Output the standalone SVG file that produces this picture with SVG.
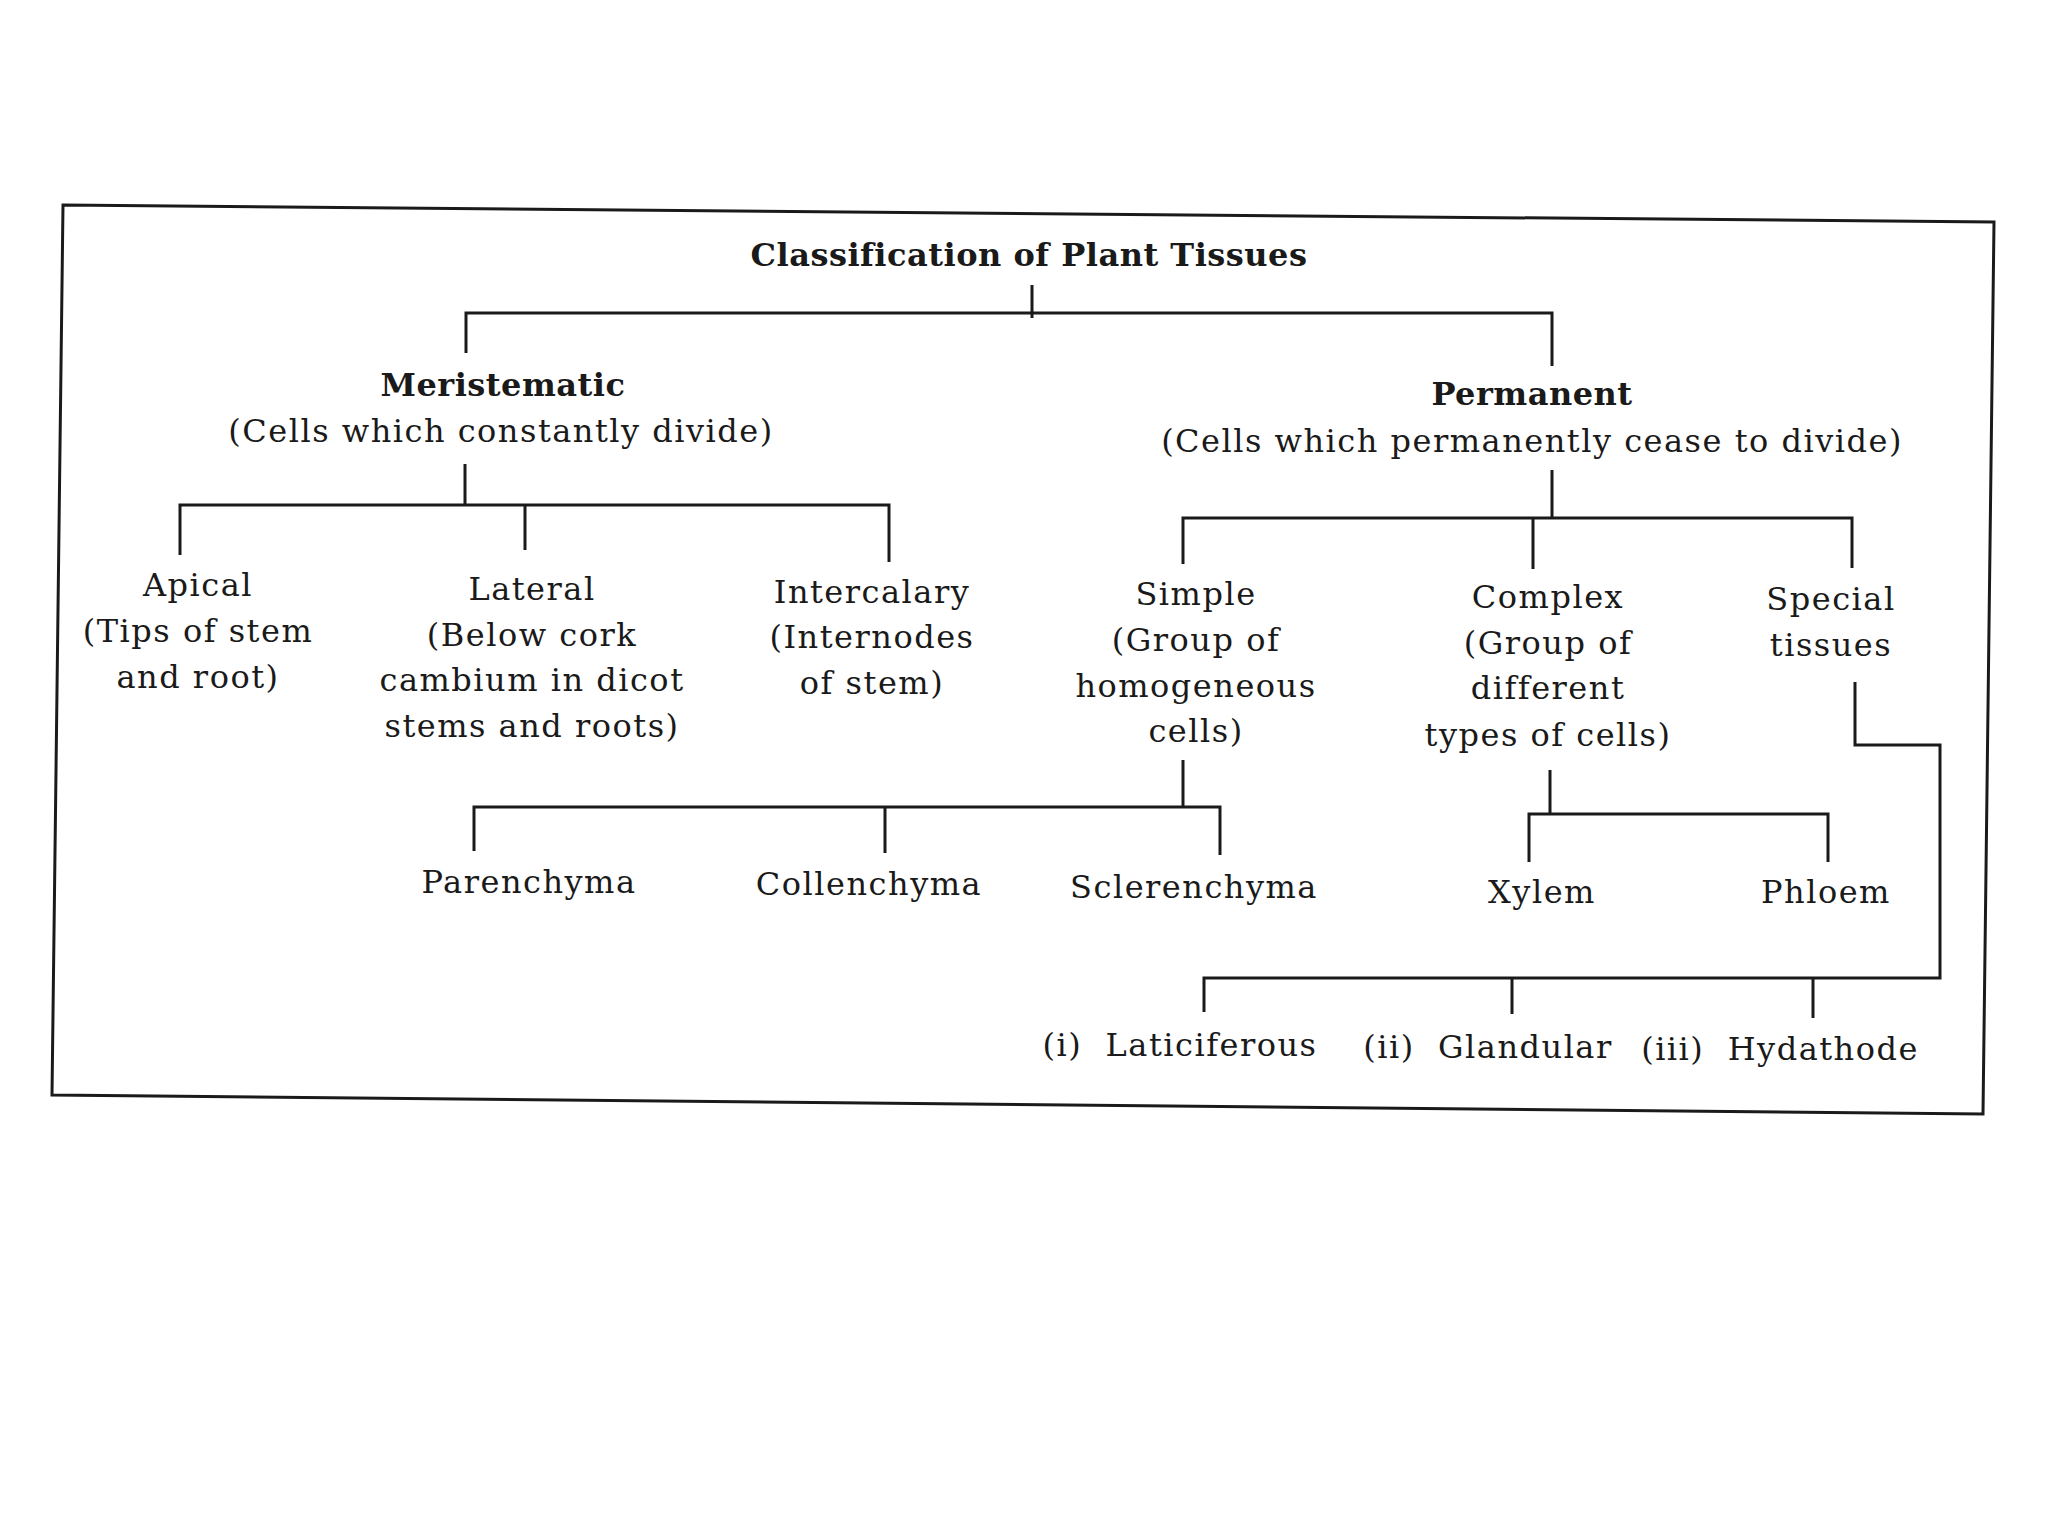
<svg xmlns="http://www.w3.org/2000/svg" width="2048" height="1536" viewBox="0 0 2048 1536">
<style>
text{font-family:"DejaVu Serif","Liberation Serif",serif;font-size:32px;letter-spacing:1.5px;fill:#1a1a1a;text-anchor:middle;white-space:pre}
.b{font-weight:bold;letter-spacing:0.5px}
.c{fill:none;stroke:#1a1a1a;stroke-width:3}
</style>
<rect width="2048" height="1536" fill="#fff"/>
<polygon class="c" points="63,205 1994,222 1983,1114 52,1095"/>
<g id="connectors">
<path class="c" d="M1032,285V318M466,353V313H1552V366"/>
<path class="c" d="M465,464V505M180,555V505H889V562M525,505V550"/>
<path class="c" d="M1552,470V518M1183,564V518H1852V568M1533,518V569"/>
<path class="c" d="M1183,760V807M474,851V807H1220V855M885,807V853"/>
<path class="c" d="M1550,770V814M1529,862V814H1828V862"/>
<path class="c" d="M1855,682V745H1940V978H1204V1012M1512,978V1014M1813,978V1018"/>
</g>
<g id="title"><text class="b" x="1029" y="266">Classification of Plant Tissues</text></g>
<g id="meristematic"><text class="b" x="503" y="396">Meristematic</text><text x="501" y="442">(Cells which constantly divide)</text></g>
<g id="permanent"><text class="b" x="1532" y="405">Permanent</text><text x="1532" y="452">(Cells which permanently cease to divide)</text></g>
<g id="apical"><text x="198" y="596">Apical</text><text x="198" y="642">(Tips of stem</text><text x="198" y="688">and root)</text></g>
<g id="lateral"><text x="532" y="600">Lateral</text><text x="532" y="646">(Below cork</text><text x="532" y="691">cambium in dicot</text><text x="532" y="737">stems and roots)</text></g>
<g id="intercalary"><text x="872" y="603">Intercalary</text><text x="872" y="648">(Internodes</text><text x="872" y="694">of stem)</text></g>
<g id="simple"><text x="1196" y="605">Simple</text><text x="1196" y="651">(Group of</text><text x="1196" y="697">homogeneous</text><text x="1196" y="742">cells)</text></g>
<g id="complex"><text x="1548" y="608">Complex</text><text x="1548" y="654">(Group of</text><text x="1548" y="699">different</text><text x="1548" y="746">types of cells)</text></g>
<g id="special"><text x="1831" y="610">Special</text><text x="1831" y="656">tissues</text></g>
<g id="parenchyma"><text x="529" y="893">Parenchyma</text></g>
<g id="collenchyma"><text x="869" y="895">Collenchyma</text></g>
<g id="sclerenchyma"><text x="1194" y="898">Sclerenchyma</text></g>
<g id="xylem"><text x="1542" y="903">Xylem</text></g>
<g id="phloem"><text x="1826" y="903">Phloem</text></g>
<g id="laticiferous"><text x="1180" y="1056">(i)  Laticiferous</text></g>
<g id="glandular"><text x="1488" y="1058">(ii)  Glandular</text></g>
<g id="hydathode"><text x="1780" y="1060">(iii)  Hydathode</text></g>
</svg>
